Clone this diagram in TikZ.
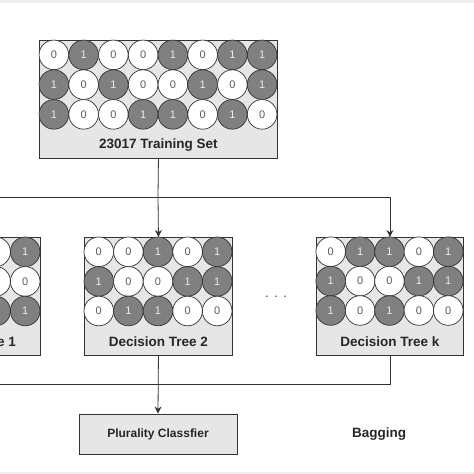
\documentclass[tikz,border=0pt]{standalone}
\usepackage{fontspec}
\setmainfont{Liberation Sans}
\usetikzlibrary{arrows.meta,positioning,calc}
\definecolor{boxgray}{HTML}{E6E6E6}
\definecolor{bitgray}{HTML}{808080}
\definecolor{linegray}{HTML}{333333}
\definecolor{stripgray}{HTML}{EFEFEF}
\tikzset{
  setbox/.style={draw=linegray,fill=boxgray,line width=0.9pt,inner sep=0pt,anchor=north west},
  bit0/.style={circle,draw=linegray,fill=white,line width=0.7pt,minimum size=29.6pt,inner sep=0pt,
    font=\fontsize{11}{11}\selectfont,text=black!65},
  bit1/.style={bit0,fill=bitgray,text=black!8},
  lbl/.style={font=\bfseries\fontsize{13.5}{13.5}\selectfont,text=black!85},
  flow/.style={draw=linegray,line width=0.8pt},
  arr/.style={flow,-{Stealth[length=7pt,width=7pt]}}
}
% grid of bits: x0, y0, diameter, rows
\newcommand{\bitgrid}[4]{%
  \foreach \row [count=\r] in {#4} {
    \foreach \b [count=\c] in \row {
      \node[bit\b] at ({#1+#3*(\c-0.5)},{#2+#3*(\r-0.5)}) {\b};
    }
  }
}

\begin{document}
\begin{tikzpicture}[x=1pt,y=-1pt]
\useasboundingbox (0,0) rectangle (474,474);
\clip (0,0) rectangle (474,474);
\fill[stripgray] (0,0) rectangle (474,3);
\fill[stripgray] (0,472) rectangle (474,474);

% training set
\node[setbox,minimum width=238pt,minimum height=118pt] (train) at (39,40) {};
\bitgrid{39}{40}{29.75}{{0,1,0,0,1,0,1,1},{1,0,1,0,0,1,0,1},{1,0,0,1,1,0,1,0}}
\node[lbl] (trainlbl) at ($(train.south)+(0,-14)$) {23017 Training Set};

% decision trees
\node[setbox,minimum width=148pt,minimum height=118pt] (tree1) at (-108,237) {};
\foreach \b [count=\r] in {0,0,1}
  \node[bit\b] at (-4.4,{237+29.6*(\r-0.5)}) {};
\bitgrid{10.4}{237}{29.6}{{1},{0},{1}}
\node[lbl] (tree1lbl) at ($(tree1.south)+(0,-14)$) {Decision Tree 1};

\node[setbox,minimum width=148pt,minimum height=118pt] (tree2) at (84,237) {};
\bitgrid{84}{237}{29.6}{{0,0,1,0,1},{1,0,0,1,1},{0,1,1,0,0}}
\node[lbl] (tree2lbl) at ($(tree2.south)+(0,-14)$) {Decision Tree 2};

\node[setbox,minimum width=147pt,minimum height=118pt] (treek) at (316,237) {};
\bitgrid{316}{237}{29.4}{{0,1,1,0,1},{1,0,0,1,1},{1,0,1,0,0}}
\node[lbl] (treeklbl) at ($(treek.south)+(0,-14)$) {Decision Tree k};

\node[font=\fontsize{13}{13}\selectfont,text=black!75] (dots) at (276,297) {.\hspace{5.5pt}.\hspace{5.5pt}.};

% classifier
\node[setbox,minimum width=158pt,minimum height=40pt,font=\bfseries\fontsize{12}{12}\selectfont,
  text=black!85,anchor=center] (vote) at (158,434) {Plurality Classfier};
\node[lbl] (bagging) at (379,434) {Bagging};

% connectors
\coordinate (split) at (158,197);
\coordinate (merge) at (158,384);
\draw[flow] (train.south) -- (split);
\draw[arr] (split) -| (tree1.north);
\draw[arr] (split) -| (treek.north);
\draw[arr] (split) -- (tree2.north);
\draw[flow] (tree1.south) |- (merge);
\draw[flow] (treek.south) |- (merge);
\draw[arr] (tree2.south) -- (vote.north);
\end{tikzpicture}
\end{document}
